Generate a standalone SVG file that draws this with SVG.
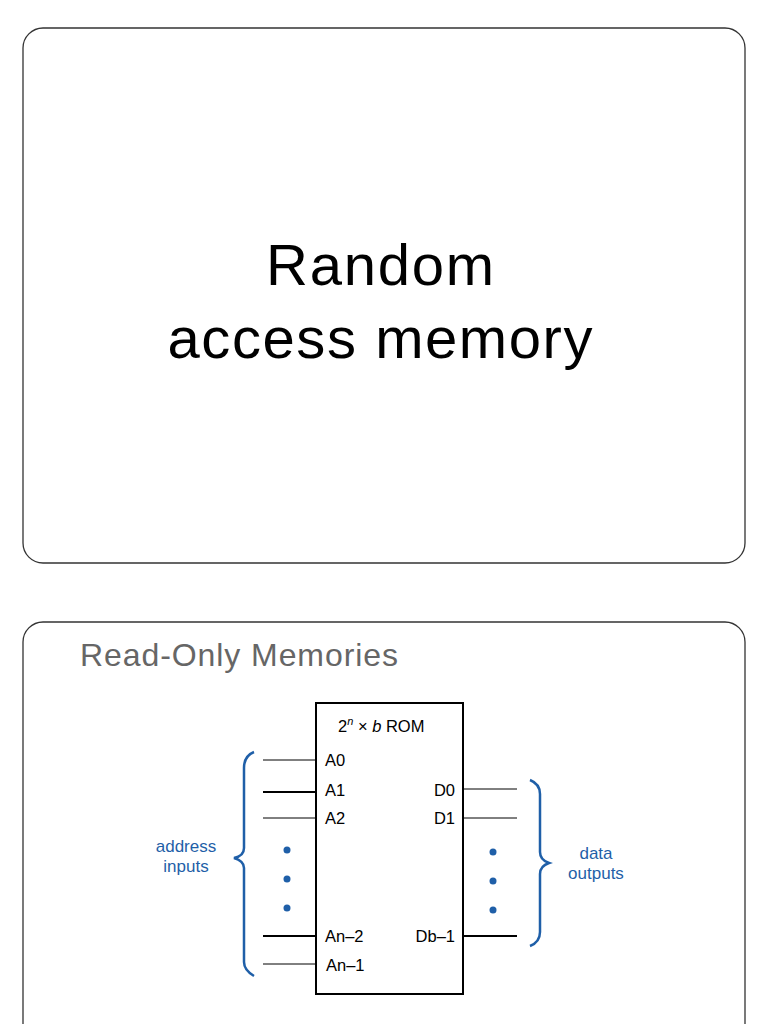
<svg xmlns="http://www.w3.org/2000/svg" width="768" height="1024" viewBox="0 0 768 1024">
<style>
.card{fill:#fff;stroke:#333;stroke-width:1.3}
.w{stroke:#000;stroke-width:1}
.wb{stroke:#000;stroke-width:2}
.lbl{font-family:"Liberation Sans",Arial,sans-serif;font-size:16.5px;fill:#000}
.blue{font-family:"Liberation Sans",Arial,sans-serif;font-size:17px;fill:#1f5fa8;text-anchor:middle}
.br{fill:none;stroke:#1f5fa8;stroke-width:2.5}
.dot{fill:#1f5fa8}
</style>
<rect width="768" height="1024" fill="#fff"/>
<g id="card1">
<rect class="card" x="23" y="28" width="722" height="535" rx="20"/>
<text x="380" y="285" text-anchor="middle" font-family="Liberation Sans,Arial,sans-serif" font-size="58" textLength="228">Random</text>
<text x="380" y="358" text-anchor="middle" font-family="Liberation Sans,Arial,sans-serif" font-size="58" textLength="425">access memory</text>
</g>
<g id="card2">
<rect class="card" x="23" y="622" width="722" height="440" rx="20"/>
<text x="80" y="666" font-family="Liberation Sans,Arial,sans-serif" font-size="32" fill="#666" textLength="318">Read-Only Memories</text>
</g>
<g id="rom">
<rect x="316" y="703" width="147" height="291" fill="#fff" stroke="#000" stroke-width="2"/>
<text class="lbl" x="338" y="732">2<tspan font-size="11" font-style="italic" dy="-7">n</tspan><tspan dy="7"> × </tspan><tspan font-style="italic">b</tspan> ROM</text>
<text class="lbl" x="325" y="766">A0</text>
<text class="lbl" x="325" y="796">A1</text>
<text class="lbl" x="325" y="824">A2</text>
<text class="lbl" x="325" y="942">An–2</text>
<text class="lbl" x="326" y="971">An–1</text>
<text class="lbl" x="455" y="796" text-anchor="end">D0</text>
<text class="lbl" x="455" y="824" text-anchor="end">D1</text>
<text class="lbl" x="455" y="942" text-anchor="end">Db–1</text>
</g>
<g id="connectors">
<line class="w" x1="263" y1="760" x2="316" y2="760"/>
<line class="wb" x1="263" y1="792" x2="316" y2="792"/>
<line class="w" x1="263" y1="818" x2="316" y2="818"/>
<line class="wb" x1="263" y1="936" x2="316" y2="936"/>
<line class="w" x1="263" y1="964" x2="316" y2="964"/>
<line class="w" x1="463" y1="789" x2="517" y2="789"/>
<line class="w" x1="463" y1="818" x2="517" y2="818"/>
<line class="wb" x1="463" y1="936" x2="517" y2="936"/>
</g>
<g id="address-inputs">
<path class="br" d="M254,752 Q244,756 244,768 L244,848 Q244,856 234,858 Q244,861 244,868 L244,962 Q244,970 254,976"/>
<circle class="dot" cx="287" cy="850" r="3.5"/><circle class="dot" cx="287" cy="879" r="3.5"/><circle class="dot" cx="287" cy="908" r="3.5"/>
<text class="blue" x="186" y="852">address</text>
<text class="blue" x="186" y="872">inputs</text>
</g>
<g id="data-outputs">
<path class="br" d="M530,780 Q540,784 540,794 L540,852 Q540,860 549,863 Q540,866 540,874 L540,932 Q540,942 530,946"/>
<circle class="dot" cx="493" cy="852" r="3.5"/><circle class="dot" cx="493" cy="881" r="3.5"/><circle class="dot" cx="493" cy="910" r="3.5"/>
<text class="blue" x="596" y="859">data</text>
<text class="blue" x="596" y="879">outputs</text>
</g>
</svg>
